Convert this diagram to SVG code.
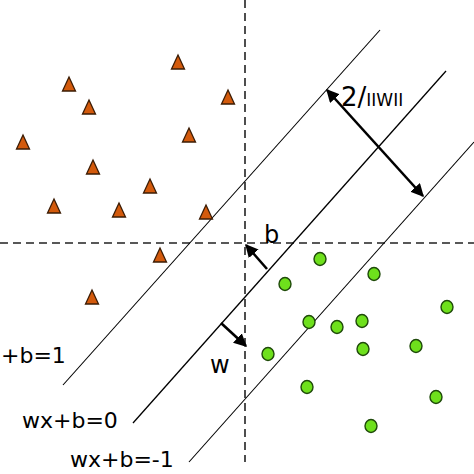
<svg xmlns="http://www.w3.org/2000/svg" width="474" height="474" viewBox="0 0 474 474">
<defs>
<marker id="ah" viewBox="0 0 10 10" refX="9" refY="5" markerWidth="5" markerHeight="5" orient="auto-start-reverse" markerUnits="strokeWidth">
<path d="M0,0 L10,5 L0,10 z" fill="#000"/>
</marker>
<polygon id="tri" points="0,-8 6.5,6 -6.5,6"/>
</defs>
<style>
.axis{stroke:#222;stroke-width:1.6;stroke-dasharray:8,5;fill:none}
.line{stroke:#000;stroke-width:1.1;fill:none}
.arr{stroke:#000;stroke-width:2.6;fill:none}
.tri{fill:#d35a0c;stroke:#3b1c05;stroke-width:1.3}
.dot{fill:#6ee01c;stroke:#1f4a0a;stroke-width:1.4}
.lbl{font-family:"DejaVu Sans",sans-serif;font-size:22px;fill:#000}
</style>
<rect width="474" height="474" fill="#fff"/>
<g id="axes">
<line class="axis" x1="0" y1="243" x2="474" y2="243"/>
<line class="axis" x1="245" y1="0" x2="245" y2="462"/>
</g>
<g id="connectors">
<line class="line" x1="380" y1="30" x2="63" y2="385"/>
<line class="line" x1="446" y1="71" x2="133" y2="423" style="stroke-width:1.3"/>
<line class="line" x1="474" y1="142" x2="189" y2="462"/>
<line class="arr" x1="327" y1="90" x2="423" y2="196" marker-start="url(#ah)" marker-end="url(#ah)"/>
<line class="arr" x1="267" y1="269" x2="246" y2="245" marker-end="url(#ah)"/>
<line class="arr" x1="221" y1="323" x2="246" y2="346" marker-end="url(#ah)"/>
</g>
<g id="class-neg">
<use href="#tri" class="tri" x="178" y="63"/>
<use href="#tri" class="tri" x="69" y="85"/>
<use href="#tri" class="tri" x="89" y="108"/>
<use href="#tri" class="tri" x="228" y="98"/>
<use href="#tri" class="tri" x="23" y="143"/>
<use href="#tri" class="tri" x="189" y="136"/>
<use href="#tri" class="tri" x="93" y="168"/>
<use href="#tri" class="tri" x="150" y="187"/>
<use href="#tri" class="tri" x="54" y="207"/>
<use href="#tri" class="tri" x="119" y="211"/>
<use href="#tri" class="tri" x="206" y="213"/>
<use href="#tri" class="tri" x="160" y="256"/>
<use href="#tri" class="tri" x="92" y="298"/>
</g>
<g id="class-pos">
<ellipse class="dot" cx="320" cy="259" rx="6" ry="6.5"/>
<ellipse class="dot" cx="374" cy="274" rx="6" ry="6.5"/>
<ellipse class="dot" cx="285" cy="284" rx="6" ry="6.5"/>
<ellipse class="dot" cx="447" cy="307" rx="6" ry="6.5"/>
<ellipse class="dot" cx="309" cy="322" rx="6" ry="6.5"/>
<ellipse class="dot" cx="337" cy="327" rx="6" ry="6.5"/>
<ellipse class="dot" cx="362" cy="321" rx="6" ry="6.5"/>
<ellipse class="dot" cx="268" cy="354" rx="6" ry="6.5"/>
<ellipse class="dot" cx="363" cy="349" rx="6" ry="6.5"/>
<ellipse class="dot" cx="416" cy="346" rx="6" ry="6.5"/>
<ellipse class="dot" cx="307" cy="387" rx="6" ry="6.5"/>
<ellipse class="dot" cx="436" cy="397" rx="6" ry="6.5"/>
<ellipse class="dot" cx="371" cy="426" rx="6" ry="6.5"/>
</g>
<g id="labels">
<text class="lbl" x="341" y="106" style="font-size:26px">2/<tspan style="font-size:17px">IIWII</tspan></text>
<text class="lbl" x="264" y="243" style="font-size:24px">b</text>
<text class="lbl" x="210" y="373" style="font-size:24px">w</text>
<text class="lbl" x="1" y="363">+b=1</text>
<text class="lbl" x="22" y="428">wx+b=0</text>
<text class="lbl" x="70" y="467">wx+b=-1</text>
</g>
</svg>
